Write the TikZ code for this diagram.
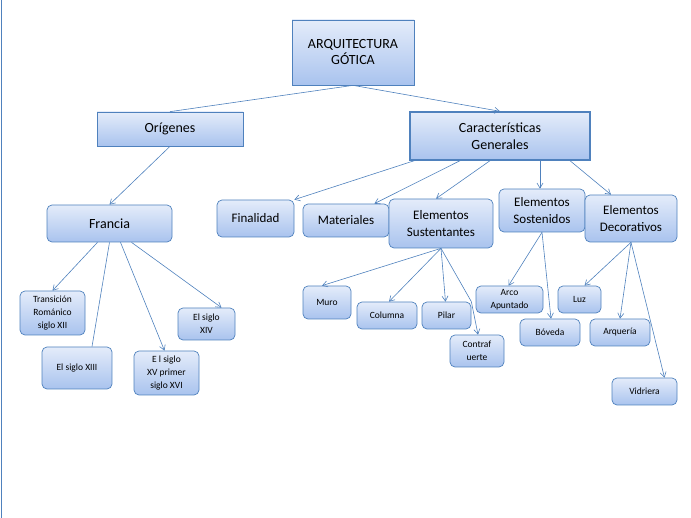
\documentclass[tikz,border=0pt]{standalone}
\usepackage{fontspec}
\setmainfont{Carlito}
\usetikzlibrary{arrows.meta}
\definecolor{bd}{HTML}{4F81BD}
\definecolor{tp}{HTML}{E4ECFA}
\definecolor{bt}{HTML}{A9C3EE}
\begin{document}
\begin{tikzpicture}[x=1pt,y=-1pt,
 box/.style={draw=bd,top color=tp,bottom color=bt,align=center,inner sep=0pt,line width=0.7pt},
 rbox/.style={box,rounded corners=5pt},
 ar/.style={draw=bd,line width=0.6pt,-{Straight Barb[length=5pt,width=6pt]}},
 ln/.style={draw=bd,line width=0.6pt}]
\useasboundingbox (0,0) rectangle (691,518);
\draw[bd,line width=1pt] (1,0) -- (1,518);
\newcommand\bx[7]{\node[#1,minimum width=#4-#2,minimum height=#5-#3,font=\fontsize{#7}{#7+2}\selectfont] (#6) at ({(#2+#4)/2},{(#3+#5)/2}) {\strut};}
\node[box,minimum width=122,minimum height=65,font=\fontsize{14}{16}\selectfont] (t) at (353,52.5) {ARQUITECTURA\\GÓTICA};
\node[box,minimum width=146,minimum height=34,font=\fontsize{14}{16}\selectfont] (o) at (170,129) {Orígenes};
\node[box,line width=1.4pt,minimum width=180,minimum height=48,font=\fontsize{14}{17}\selectfont] (c) at (500,136) {Características\\Generales};
\node[rbox,minimum width=125,minimum height=37,font=\fontsize{14}{16}\selectfont] (f) at (109.5,223.5) {Francia};
\node[rbox,minimum width=77,minimum height=37,font=\fontsize{13}{15}\selectfont] (fi) at (255.5,218.5) {Finalidad};
\node[rbox,minimum width=86,minimum height=33,font=\fontsize{13}{15}\selectfont] (ma) at (346,220.5) {Materiales};
\node[rbox,minimum width=104,minimum height=49,font=\fontsize{13}{17}\selectfont] (su) at (441,223.5) {Elementos\\Sustentantes};
\node[rbox,minimum width=86,minimum height=43,font=\fontsize{13}{17}\selectfont] (so) at (542,210.5) {Elementos\\Sostenidos};
\node[rbox,minimum width=92,minimum height=47,font=\fontsize{13}{17}\selectfont] (de) at (631,218.5) {Elementos\\Decorativos};
\tikzset{sm/.style={rbox,font=\fontsize{9.5}{13}\selectfont}}
\node[sm,minimum width=65,minimum height=44] (tr) at (52.5,313) {Transición\\Románico\\siglo XII};
\node[sm,minimum width=70,minimum height=42] (x3) at (77,368) {El siglo XIII};
\node[sm,minimum width=65,minimum height=44] (x5) at (166.5,373) {E l siglo\\XV primer\\siglo XVI};
\node[sm,minimum width=57,minimum height=32] (x4) at (206.5,324) {El siglo\\XIV};
\node[sm,minimum width=48,minimum height=33] (mu) at (327,302.5) {Muro};
\node[sm,minimum width=60,minimum height=27] (co) at (387,315.5) {Columna};
\node[sm,minimum width=49,minimum height=27] (pi) at (446.5,315.5) {Pilar};
\node[sm,minimum width=54,minimum height=32] (cf) at (477,351) {Contraf\\uerte};
\node[sm,minimum width=67,minimum height=27] (aa) at (509.5,299.5) {Arco\\Apuntado};
\node[sm,minimum width=60,minimum height=27] (bo) at (550,332.5) {Bóveda};
\node[sm,minimum width=43,minimum height=27] (lu) at (579.5,299.5) {Luz};
\node[sm,minimum width=60,minimum height=27] (aq) at (620,332.5) {Arquería};
\node[sm,minimum width=65,minimum height=27] (vi) at (644.5,391.5) {Vidriera};
\draw[ln] (t.south) -- (o.north);
\draw[ar] (t.south) -- (c.north);
\draw[ar] (o.south) -- (f.north);
\draw[ar] (c.south west) ++(5,0) -- (fi.north east);
\draw[ar] ([xshift=-40pt]c.south) -- ([xshift=-15pt]ma.north east);
\draw[ar] ([xshift=-10pt]c.south) -- ([xshift=-5pt]su.north);
\draw[ar] ([xshift=40pt]c.south) -- ([xshift=-2pt]so.north);
\draw[ar] ([xshift=70pt]c.south) -- ([xshift=-20pt]de.north);
\draw[ar] ([xshift=-12pt]f.south) -- (tr.north);
\draw[ln] (f.south) -- ([xshift=15pt]x3.north);
\draw[ar] ([xshift=11pt]f.south) -- ([xshift=-2pt]x5.north);
\draw[ar] ([xshift=22pt]f.south) -- ([xshift=15pt]x4.north);
\draw[ar] (su.south) -- ([xshift=-5pt]mu.north);
\draw[ar] (su.south) -- ([xshift=2pt]co.north);
\draw[ar] (su.south) -- ([xshift=-1pt]pi.north);
\draw[ar] (su.south) -- ([xshift=0pt]pi.north east) -- ([xshift=1pt]cf.north);
\draw[ar] (so.south) -- ([xshift=-1pt]aa.north);
\draw[ar] (so.south) -- ([xshift=1pt]bo.north);
\draw[ar] (de.south) -- ([xshift=5pt]lu.north);
\draw[ar] (de.south) -- ([xshift=0pt]aq.north);
\draw[ar] (de.south) -- ([xshift=20pt]vi.north);
\end{tikzpicture}
\end{document}
